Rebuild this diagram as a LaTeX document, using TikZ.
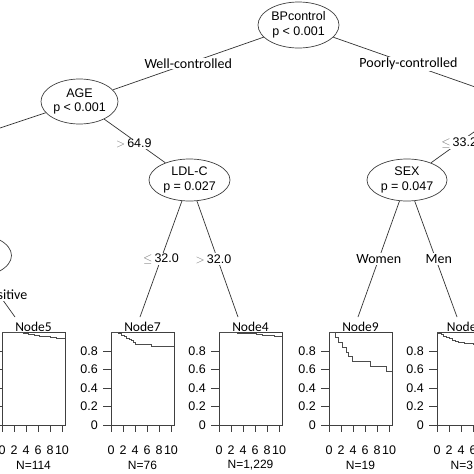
\documentclass[tikz,border=0pt]{standalone}
\usepackage{xcolor}
\usepackage{fontspec}
\setmainfont{Liberation Sans}
\newfontfamily\calib{Carlito}
\usepackage{tikz}
\usetikzlibrary{shapes.geometric,calc}

\newcommand{\lelab}{\textcolor{black!55}{$\leq$}\,}
\newcommand{\gtlab}{\textcolor{black!55}{$>$}\,}

\begin{document}
\begin{tikzpicture}[x=1pt, y=-1pt,
  splitnode/.style={draw=black!75, line width=0.7pt, ellipse, minimum width=81pt, minimum height=44pt, inner sep=0pt, align=center, font=\fontsize{12.5}{14.5}\selectfont},
  conn/.style={draw=black!80, line width=0.7pt},
  lab/.style={fill=white, inner sep=1pt, font=\fontsize{12.5}{14}\selectfont},
  catlab/.style={lab, font=\calib\fontsize{14}{16}\selectfont},
  panel/.style={shift={(#1,425)}, x=6pt, y=92.5pt},
  frame/.style={draw=black!75, line width=0.7pt},
  tick/.style={inner sep=0pt, font=\fontsize{12.5}{14}\selectfont},
  ttl/.style={inner sep=0pt, font=\calib\fontsize{13.5}{15}\selectfont},
  km/.style={draw=black!70, line width=1pt}
]
\useasboundingbox (0,0) rectangle (474,474);
\fill[white] (0,0) rectangle (474,474);
\clip (0,0) rectangle (474,474);

\node[splitnode, minimum height=46pt] (root) at (298.5,25) {BPcontrol\\p < 0.001};
\node[splitnode, minimum width=77pt, minimum height=45pt] (age) at (79.5,101.5) {AGE\\p < 0.001};
\node[splitnode, minimum height=42pt] (ldl) at (189.5,180) {LDL-C\\p = 0.027};
\node[splitnode, minimum width=80pt, minimum height=42pt] (sex) at (407,180) {SEX\\p = 0.047};
\node[splitnode] (n3) at (-29,255.5) {};
\coordinate (rc) at (516.5,101.5);
\coordinate (lc) at (-156,180);
\coordinate (n5) at (15,317);
\coordinate (n7) at (140,317);
\coordinate (n4) at (238,317);
\coordinate (n9) at (358,317);
\coordinate (n10) at (457,317);

\draw[conn] (root) -- node[catlab] {Well-controlled} (age);
\draw[conn] (root) -- node[catlab, pos=.41] {Poorly-controlled} (rc);
\draw[conn] (age) -- (lc);
\draw[conn] (age) -- node[lab, pos=.55, xshift=-4pt] {\gtlab 64.9} (ldl);
\draw[conn] (rc) -- node[lab, pos=.67] {\lelab 33.2} (sex);
\draw[conn] (ldl) -- node[lab] {\lelab 32.0} (n7);
\draw[conn] (ldl) -- node[lab, xshift=-4pt] {\gtlab 32.0} (n4);
\draw[conn] (sex) -- node[catlab] {Women} (n9);
\draw[conn] (sex) -- node[catlab, xshift=3pt] {Men} (n10);
\draw[conn] (n3) -- node[catlab, pos=.46, xshift=6pt] {Positive} (n5);

\foreach \nm/\xo/\nn in {5/2/114, 7/111/76, 4/219/{1,229}, 9/329/19, 10/437/{3\phantom{00}}} {
  \begin{scope}[panel=\xo]
    \draw[frame] (0,0) rectangle (10.5,1);
    \foreach \t in {0,2,...,10} {
      \draw[frame] (\t,0) -- ++(0,-7pt);
      \node[tick] at ([yshift=-25pt]\t,0) {\t};
    }
    \foreach \v/\vl in {0/0,0.2/0.2,0.4/0.4,0.6/0.6,0.8/0.8} {
      \draw[frame] (0,\v) -- ++(-8pt,0);
      \node[tick, anchor=east] at ([xshift=-13pt]0,\v) {\vl};
    }
    \node[ttl] (t\nm) at ([yshift=5.5pt]5.25,1) {Node\nm};
    \node[tick, font=\fontsize{12}{14}\selectfont] (N\nm) at ([yshift=-40pt]5.25,0) {N=\nn};
  \end{scope}
}

\begin{scope}[panel=2]
  \draw[km] (0,1) -| (3.6,.99) -| (4.4,.98) -| (5.4,.97) -| (6.3,.96) -| (7.2,.955) -| (8.1,.945) -| (9.0,.938) -| (9.8,.93) -- (10.5,.93);
\end{scope}
\begin{scope}[panel=111]
  \draw[km] (0,1) -| (1.3,.985) -| (1.8,.97) -| (2.2,.955) -| (2.6,.94) -| (3.0,.925) -| (3.4,.91) -| (3.7,.89) -| (4.0,.87) -| (6.8,.847) -- (10.5,.847);
\end{scope}
\begin{scope}[panel=219]
  \draw[km] (0,1) -| (1.8,.997) -| (3,.993) -| (4.2,.99) -| (5.2,.985) -| (6.2,.978) -| (7.2,.972) -| (8.2,.966) -| (9.2,.96) -| (10,.955) -- (10.5,.955);
\end{scope}
\begin{scope}[panel=329]
  \draw[km] (0,1) -| (1.0,.947) -| (1.6,.895) -| (2.3,.842) -| (2.9,.789) -| (3.3,.737) -| (3.9,.684) -| (6.9,.632) -| (9.6,.579) -- (10.5,.579);
\end{scope}
\begin{scope}[panel=437]
  \draw[km] (0,1) -| (0.3,.99) -| (0.7,.975) -| (1.1,.96) -| (1.5,.945) -| (2,.93) -| (2.5,.915) -| (3,.905) -| (3.5,.897) -| (4,.89) -| (4.6,.882) -| (5.2,.876) -| (6,.87) -| (7,.862) -| (8,.855) -- (10.5,.855);
\end{scope}
\end{tikzpicture}
\end{document}
